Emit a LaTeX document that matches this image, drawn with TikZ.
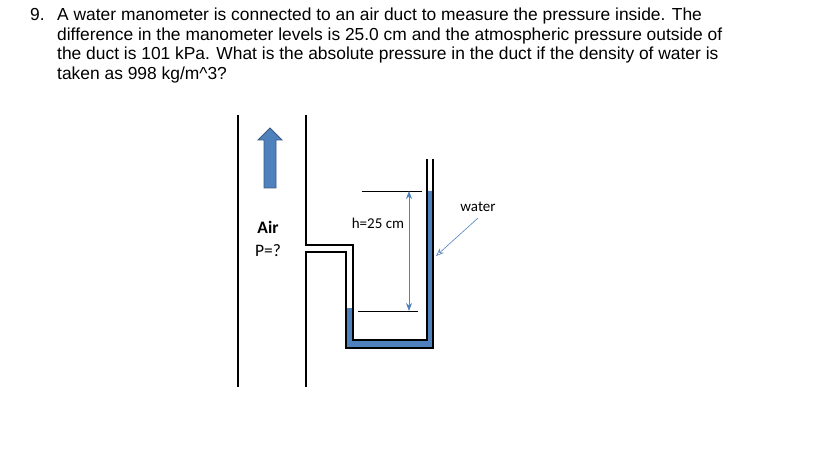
\documentclass[tikz,border=0pt]{standalone}
\usepackage{fontspec}
\setmainfont{Liberation Sans}
\newfontfamily\calfont{Carlito}
\usetikzlibrary{arrows.meta}
\definecolor{wat}{RGB}{79,129,189}
\begin{document}
\begin{tikzpicture}[x=1pt,y=-1pt,
  wall/.style={line width=2.4pt,black},
  lbl/.style={font=\calfont\fontsize{15}{17}\selectfont,inner sep=0}]
\useasboundingbox (0,0) rectangle (822,449);
\node[anchor=north west,inner sep=0,align=left,font=\fontsize{17.4}{19.5}\selectfont] (num) at (30,8) {9.};
\node[anchor=north west,inner sep=0,align=left,font=\fontsize{17.4}{19.5}\selectfont] (q) at (57,8)
{A water manometer is connected to an air duct to measure the pressure inside. The\\
difference in the manometer levels is 25.0 cm and the atmospheric pressure outside of\\
the duct is 101 kPa. What is the absolute pressure in the duct if the density of water is\\
taken as 998 kg/m\^{}3?};
% water
\fill[wat] (346,308) -- (353,308) -- (353,340) -- (427,340) -- (427,191) -- (433,191) -- (433,348) -- (346,348) -- cycle;
% duct
\draw[wall] (238,115) -- (238,387);
\draw[wall] (306,115) -- (306,245) -- (353,245) -- (353,340) -- (427,340) -- (427,159);
\draw[wall] (306,387) -- (306,252) -- (346,252) -- (346,348) -- (433,348) -- (433,159);
% level lines
\draw[line width=0.6pt] (362,191) -- (422,191);
\draw[line width=0.6pt] (358,311) -- (418,311);
\draw[wat,line width=0.7pt,{Stealth[length=8pt,width=6pt]}-{Stealth[length=8pt,width=6pt]}] (409,191) -- (409,311);
% flow arrow
\draw[fill=wat,draw=wat!70!black,line width=0.8pt] (264,188) -- (276,188) -- (276,140) -- (282,140) -- (270,128) -- (258,140) -- (264,140) -- cycle;
\node[lbl,font=\calfont\bfseries\fontsize{17.5}{19}\selectfont] (air) at (268,227) {Air};
\node[lbl,font=\calfont\fontsize{17.5}{19}\selectfont] (p) at (268,251) {P=?};
\node[lbl] (h) at (378,223) {h=25 cm};
\node[lbl] (w) at (478,207) {water};
\draw[wat,line width=0.6pt,-{Stealth[length=8pt,width=6pt,open]}] (w.south) ++(0,6) -- (436,256);
\end{tikzpicture}
\end{document}
